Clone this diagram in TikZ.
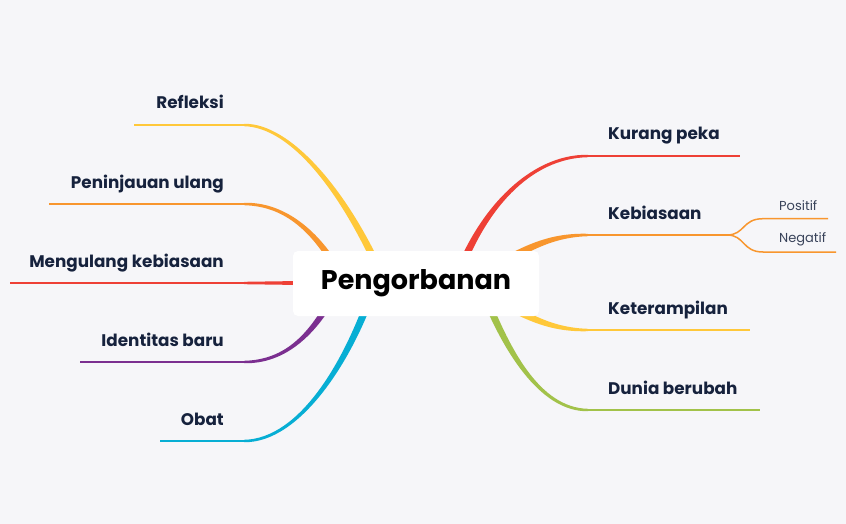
\documentclass[tikz,border=0pt]{standalone}
\usepackage{fontspec}
\setmainfont{Poppins}
\usetikzlibrary{calc}

\definecolor{bgcol}{HTML}{F6F6F9}
\definecolor{ink}{HTML}{16223D}
\definecolor{cyellow}{HTML}{FFC83A}
\definecolor{corange}{HTML}{F8962E}
\definecolor{cred}{HTML}{EE4036}
\definecolor{cpurple}{HTML}{7B2F90}
\definecolor{ccyan}{HTML}{07AED4}
\definecolor{cgreen}{HTML}{A2C24A}

\tikzset{
  lbl/.style={text=ink, font=\fontsize{16.8}{18}\selectfont\bfseries, inner sep=0pt},
  sublbl/.style={text=ink!85, font=\fontsize{13}{14}\selectfont, inner sep=0pt},
  rootbox/.style={fill=white, rounded corners=5pt, minimum width=246pt, minimum height=65pt,
    inner sep=0pt, font=\fontsize{27}{30}\selectfont\bfseries, text=black},
  stem/.style={line width=2.4pt},
  twig/.style={line width=1.5pt},
}

% tapered branch: colour, start, control 1, control 2, end, half width at end
\newcommand{\limb}[6]{%
  \fill[#1] ($(#2)+(0,-1.2)$) .. controls ($(#3)+(0,-2.2)$) and ($(#4)-(#6)$) .. ($(#5)-(#6)$)
    -- ($(#5)+(#6)$) .. controls ($(#4)+(#6)$) and ($(#3)+(0,2.2)$) .. ($(#2)+(0,1.2)$) -- cycle;}

\begin{document}
\begin{tikzpicture}[x=1pt,y=-1pt]
\fill[bgcol] (0,0) rectangle (846,524);
\useasboundingbox (0,0) rectangle (846,524);

% left side
\coordinate (refl-a) at (134,125);  \coordinate (refl-j) at (244,125);
\coordinate (pen-a) at (49,204);    \coordinate (pen-j) at (244,204);
\coordinate (meng-a) at (10,283);   \coordinate (meng-j) at (244,283);
\coordinate (iden-a) at (80,362);   \coordinate (iden-j) at (244,362);
\coordinate (obat-a) at (160,441);  \coordinate (obat-j) at (244,441);
% right side
\coordinate (kur-j) at (588,156);   \coordinate (kur-b) at (740,156);
\coordinate (keb-j) at (588,235);   \coordinate (keb-k) at (727,235);
\coordinate (ket-j) at (588,330);   \coordinate (ket-b) at (750,330);
\coordinate (dun-j) at (588,410);   \coordinate (dun-b) at (760,410);
\coordinate (pos-a) at (763,218.7); \coordinate (pos-b) at (828,218.7);
\coordinate (neg-a) at (763,252);   \coordinate (neg-b) at (836,252);

\limb{cyellow}{refl-j}{290,125}{345,190}{385,283}{-4,0}
\limb{corange}{pen-j}{280,204}{315,225}{345,283}{-4,0}
\limb{cpurple}{iden-j}{285,362}{315,335}{340,283}{4,0}
\limb{ccyan}{obat-j}{300,441}{350,360}{375,283}{4,0}
\limb{cred}{kur-j}{530,156}{480,210}{455,283}{4,0}
\limb{corange}{keb-j}{555,235}{530,245}{490,270}{2,3.4}
\limb{cyellow}{ket-j}{555,330}{530,320}{490,295}{-2,3.4}
\limb{cgreen}{dun-j}{540,410}{505,350}{480,283}{-4,0}
\fill[cred] ($(meng-j)+(0,-1.2)$) -- (300,281) -- (300,285) -- ($(meng-j)+(0,1.2)$) -- cycle;

\draw[stem, cyellow] (refl-a) -- (refl-j);
\draw[stem, corange] (pen-a) -- (pen-j);
\draw[stem, cred] (meng-a) -- (meng-j);
\draw[stem, cpurple] (iden-a) -- (iden-j);
\draw[stem, ccyan] (obat-a) -- (obat-j);
\draw[stem, cred] (kur-j) -- (kur-b);
\draw[stem, corange] (keb-j) -- (keb-k);
\draw[stem, cyellow] (ket-j) -- (ket-b);
\draw[stem, cgreen] (dun-j) -- (dun-b);
\draw[twig, corange] (keb-k) .. controls (745,235) and (742,218.7) .. (pos-a) -- (pos-b);
\draw[twig, corange] (keb-k) .. controls (745,235) and (742,252) .. (neg-a) -- (neg-b);

\node[rootbox] (root) at (416,283.5) {Pengorbanan};

\node[lbl, anchor=base east] (refl) at (224,109) {Refleksi};
\node[lbl, anchor=base east] (pen) at (224,188) {Peninjauan ulang};
\node[lbl, anchor=base east] (meng) at (224,267) {Mengulang kebiasaan};
\node[lbl, anchor=base east] (iden) at (224,346) {Identitas baru};
\node[lbl, anchor=base east] (obat) at (224,425) {Obat};
\node[lbl, anchor=base west] (kur) at (608,140) {Kurang peka};
\node[lbl, anchor=base west] (keb) at (608,219) {Kebiasaan};
\node[lbl, anchor=base west] (ket) at (608,314) {Keterampilan};
\node[lbl, anchor=base west] (dun) at (608,394) {Dunia berubah};
\node[sublbl, anchor=base west] (pos) at (779,210) {Positif};
\node[sublbl, anchor=base west] (neg) at (779,242.5) {Negatif};
\end{tikzpicture}
\end{document}
